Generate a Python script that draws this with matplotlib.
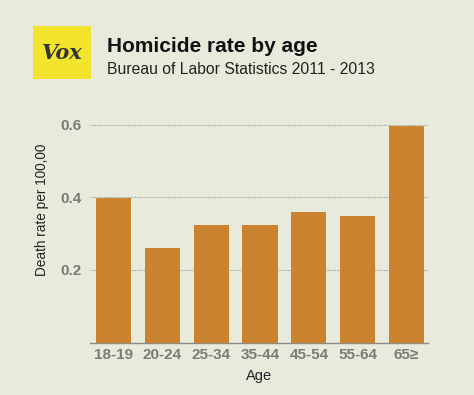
import matplotlib
matplotlib.use("Agg")
import matplotlib.pyplot as plt
from matplotlib.patches import Rectangle

# data
age_groups = ["18-19", "20-24", "25-34", "35-44", "45-54", "55-64", "65\u2265"]
death_rate = [0.398, 0.26, 0.324, 0.324, 0.36, 0.349, 0.597]
y_ticks = [0.2, 0.4, 0.6]

bg_color = "#e8ebdc"
bar_color = "#cc832f"
tick_gray = "#7b7b78"
logo_yellow = "#f2e42c"

plt.rcParams["font.family"] = ["Liberation Sans", "DejaVu Sans"]

fig = plt.figure(figsize=(4.74, 3.95), dpi=100)
fig.patch.set_facecolor(bg_color)

ax = fig.add_axes([90 / 474, 1 - 342.5 / 395, 338 / 474, 0.62 * 362.5 / 395])
ax.set_facecolor(bg_color)

x = list(range(len(age_groups)))
ax.bar(x, death_rate, width=0.72, color=bar_color, zorder=3)

ax.set_xlim(-0.48, 6.44)
ax.set_ylim(0, 0.62)
ax.set_yticks(y_ticks)
ax.set_yticklabels([f"{v:.1f}" for v in y_ticks])
ax.set_xticks(x)
ax.set_xticklabels(age_groups)

for v in y_ticks:
    ax.axhline(v, color="#a0a09a", linestyle=(0, (1, 1)), linewidth=0.8, zorder=1)

for s in ["top", "right", "left"]:
    ax.spines[s].set_visible(False)
ax.spines["bottom"].set_color("#8a8a86")
ax.spines["bottom"].set_linewidth(1.0)

ax.tick_params(axis="both", length=0, colors=tick_gray, labelsize=11)
ax.tick_params(axis="y", pad=6)
ax.tick_params(axis="x", pad=4)
for lbl in ax.get_xticklabels() + ax.get_yticklabels():
    lbl.set_fontweight("bold")

ax.set_xlabel("Age", fontsize=10.5, color="#222222", labelpad=5)
ax.set_ylabel("Death rate per 100,00", fontsize=9.8, color="#222222",
              labelpad=8, y=0.59)

# header: logo + titles
fig.patches.append(Rectangle((33 / 474, 1 - 79 / 395), 58 / 474, 53 / 395,
                             transform=fig.transFigure, facecolor=logo_yellow,
                             edgecolor="none"))
fig.text(62 / 474, 1 - 53 / 395, "Vox", fontsize=15, fontweight="bold",
         fontstyle="italic", family="DejaVu Serif", color="#333333",
         ha="center", va="center")
fig.text(107 / 474, 1 - 46 / 395, "Homicide rate by age", fontsize=15,
         fontweight="bold", color="#111111", ha="left", va="center")
fig.text(107 / 474, 1 - 70 / 395, "Bureau of Labor Statistics 2011 - 2013",
         fontsize=11.3, color="#222222", ha="left", va="center")

fig.savefig("out.png", dpi=100, facecolor=fig.get_facecolor())
